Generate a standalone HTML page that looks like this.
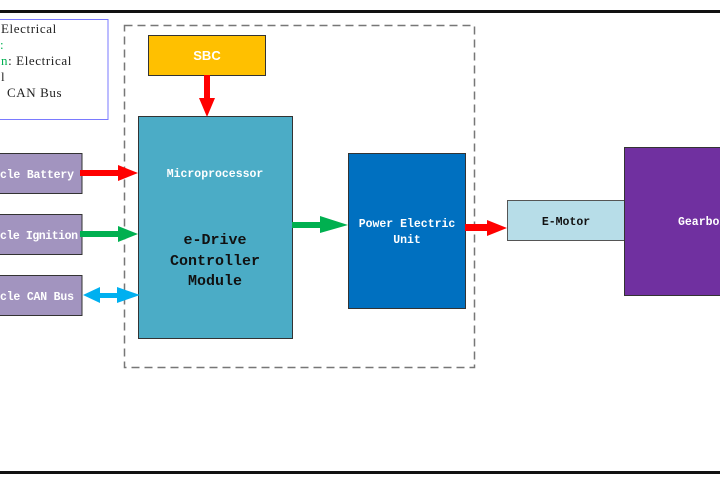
<!DOCTYPE html>
<html><head><meta charset="utf-8"><style>
html,body{margin:0;padding:0;background:#fff;width:720px;height:480px;overflow:hidden}
svg{display:block}
.m{font-family:"Liberation Mono","Noto Serif CJK SC",monospace}
.s{font-family:"Liberation Serif","Noto Serif CJK SC",serif}
.a{font-family:"Liberation Sans",sans-serif}
</style></head><body>
<svg width="720" height="480" viewBox="0 0 720 480" xmlns="http://www.w3.org/2000/svg">
<rect x="0" y="10" width="720" height="3" fill="#111"/>
<rect x="0" y="471" width="720" height="3" fill="#111"/>
<rect x="-5" y="19.5" width="113" height="100" fill="#fff" stroke="#7a7aff" stroke-width="1"/>
<text class="s" font-size="13" fill="#222" letter-spacing="0.6">
<tspan x="1" y="33">Electrical</tspan>
<tspan x="0" y="49" fill="#00b050">:</tspan>
<tspan x="1" y="65"><tspan fill="#00b050">n</tspan>: Electrical</tspan>
<tspan x="1" y="81">l</tspan>
<tspan x="7" y="97">CAN Bus</tspan>
</text>
<rect x="124.5" y="25.5" width="350" height="342" fill="none" stroke="#777" stroke-width="1.5" stroke-dasharray="8,5"/>
<rect x="148.5" y="35.5" width="117" height="40" fill="#ffc000" stroke="#333"/>
<text class="a" x="207" y="60" font-size="13" font-weight="bold" fill="#fff" text-anchor="middle">SBC</text>
<rect x="204" y="75" width="6" height="25" fill="#ff0000"/>
<polygon points="199,98 215,98 207,117" fill="#ff0000"/>
<rect x="138.5" y="116.5" width="154" height="222" fill="#4bacc6" stroke="#333"/>
<text class="m" x="215" y="177" font-size="11.5" fill="#fff" font-weight="bold" text-anchor="middle">Microprocessor</text>
<text class="m" x="215" y="244" font-size="15" fill="#111" font-weight="bold" text-anchor="middle">e-Drive</text>
<text class="m" x="215" y="265" font-size="15" fill="#111" font-weight="bold" text-anchor="middle">Controller</text>
<text class="m" x="215" y="285" font-size="15" fill="#111" font-weight="bold" text-anchor="middle">Module</text>
<rect x="-5" y="153.5" width="87" height="40" fill="#a294bf" stroke="#333"/>
<text class="m" x="0" y="178" font-size="11.5" fill="#fff" font-weight="bold" textLength="74">cle Battery</text>
<rect x="-5" y="214.5" width="87" height="40" fill="#a294bf" stroke="#333"/>
<text class="m" x="0" y="239" font-size="11.5" fill="#fff" font-weight="bold" textLength="78">cle Ignition</text>
<rect x="-5" y="275.5" width="87" height="40" fill="#a294bf" stroke="#333"/>
<text class="m" x="0" y="300" font-size="11.5" fill="#fff" font-weight="bold" textLength="74">cle CAN Bus</text>
<rect x="80" y="170" width="40" height="6" fill="#ff0000"/>
<polygon points="118,165 118,181 138,173" fill="#ff0000"/>
<rect x="80" y="231" width="40" height="6" fill="#00b050"/>
<polygon points="118,226 118,242 138,234" fill="#00b050"/>
<rect x="95" y="293" width="24" height="5" fill="#00b0f0"/>
<polygon points="100,287 100,303 83,295" fill="#00b0f0"/>
<polygon points="117,287 117,303 140,295" fill="#00b0f0"/>
<rect x="292" y="222" width="30" height="6" fill="#00b050"/>
<polygon points="320,216 320,233 348,225" fill="#00b050"/>
<rect x="348.5" y="153.5" width="117" height="155" fill="#0070c0" stroke="#333"/>
<text class="m" x="407" y="227" font-size="11.5" fill="#fff" font-weight="bold" text-anchor="middle">Power Electric</text>
<text class="m" x="407" y="243" font-size="11.5" fill="#fff" font-weight="bold" text-anchor="middle">Unit</text>
<rect x="465" y="224" width="24" height="7" fill="#ff0000"/>
<polygon points="487,220 487,236 507,228" fill="#ff0000"/>
<rect x="507.5" y="200.5" width="117" height="40" fill="#b7dde8" stroke="#555"/>
<text class="m" x="566" y="225" font-size="11.5" fill="#111" font-weight="bold" text-anchor="middle">E-Motor</text>
<rect x="624.5" y="147.5" width="110" height="148" fill="#7030a0" stroke="#333"/>
<text class="m" x="678" y="225" font-size="11.5" fill="#fff" font-weight="bold">Gearbox</text>
</svg>
</body></html>
